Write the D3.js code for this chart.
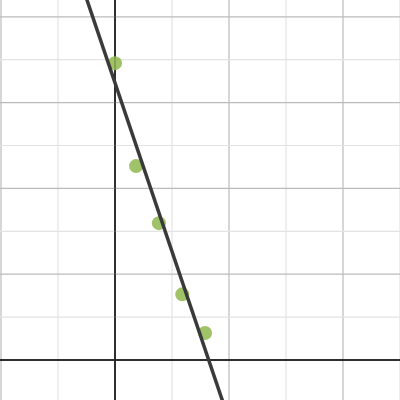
<!DOCTYPE html>
<html><head><meta charset="utf-8">
<script src="https://cdn.jsdelivr.net/npm/d3@7"></script>
<style>body{margin:0;background:#fff}</style></head>
<body><svg id="c" width="400" height="400"></svg>
<script>
const pointsX = [0, 0.37, 0.77, 1.18, 1.58];
const pointsY = [6.92, 4.52, 3.19, 1.53, 0.63];
const lineSlope = -3.93;
const lineIntercept = 6.46;
const xTicks = [-2, -1, 0, 1, 2, 3, 4, 5];
const yTicks = [0, 1, 2, 3, 4, 5, 6, 7, 8];

const svg = d3.select("#c");
const x = d3.scaleLinear().domain([-115/57, 285/57]).range([0, 400]);
const y = d3.scaleLinear().domain([-40/42.9, 360/42.9]).range([400, 0]);

xTicks.forEach(t => {
  svg.append("line").attr("x1", x(t)).attr("x2", x(t)).attr("y1", 0).attr("y2", 400)
    .attr("stroke", t === 0 ? "#222" : (t % 2 === 0 ? "#bbb" : "#e3e3e3"))
    .attr("stroke-width", t === 0 ? 1.5 : 1.2);
});
yTicks.forEach(t => {
  svg.append("line").attr("y1", y(t)).attr("y2", y(t)).attr("x1", 0).attr("x2", 400)
    .attr("stroke", t === 0 ? "#222" : (t % 2 === 0 ? "#bbb" : "#e3e3e3"))
    .attr("stroke-width", t === 0 ? 1.5 : 1.2);
});
// redraw axes on top
svg.append("line").attr("x1", x(0)).attr("x2", x(0)).attr("y1", 0).attr("y2", 400).attr("stroke", "#222").attr("stroke-width", 1.5);
svg.append("line").attr("y1", y(0)).attr("y2", y(0)).attr("x1", 0).attr("x2", 400).attr("stroke", "#222").attr("stroke-width", 1.5);

svg.selectAll("circle.p").data(pointsX.map((v, i) => [v, pointsY[i]])).enter()
  .append("circle").attr("cx", d => x(d[0])).attr("cy", d => y(d[1])).attr("r", 7)
  .attr("fill", "#8fb84f").attr("opacity", 0.85);

const xs = x.domain();
svg.append("line")
  .attr("x1", x(xs[0])).attr("y1", y(lineSlope * xs[0] + lineIntercept))
  .attr("x2", x(xs[1])).attr("y2", y(lineSlope * xs[1] + lineIntercept))
  .attr("stroke", "#3a3a3a").attr("stroke-width", 3.5);
</script></body></html>
